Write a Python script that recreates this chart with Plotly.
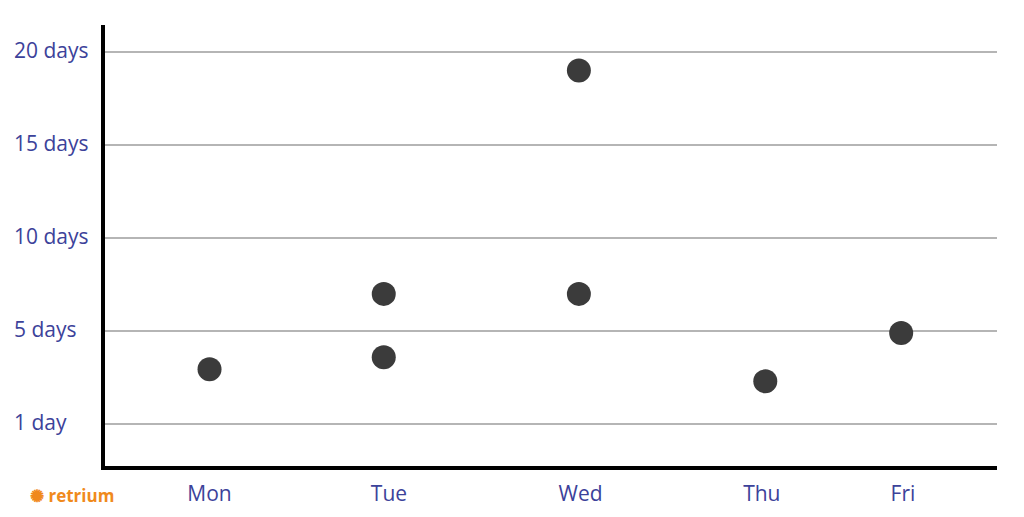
import plotly.graph_objects as go

day_names = ["Mon", "Tue", "Wed", "Thu", "Fri"]
day_pos = [1.0, 2.03, 3.13, 4.17, 4.98]

# y tick labels sit on evenly spaced rows
y_labels = ["1 day", "5 days", "10 days", "15 days", "20 days"]
y_rows = [0, 1, 2, 3, 4]

point_x = [1.0, 2.0, 2.0, 3.12, 3.12, 4.19, 4.97]
point_y = [0.59, 1.40, 0.72, 3.80, 1.40, 0.46, 0.98]

fig = go.Figure(go.Scatter(
    x=point_x, y=point_y, mode="markers",
    marker=dict(size=24, color="#3b3b3b"),
    hoverinfo="skip",
))

fig.update_xaxes(
    range=[0.4, 5.52], tickvals=day_pos, ticktext=day_names,
    showgrid=False, zeroline=False, showline=True, linewidth=4, linecolor="black",
    ticks="", ticklabelstandoff=6,
    tickfont=dict(family="Open Sans", size=21, color="#3c429a"),
)
fig.update_yaxes(
    range=[-0.45, 4.29], tickvals=y_rows, showticklabels=False,
    showgrid=True, gridcolor="#b5b5b5", gridwidth=1.5, zeroline=False,
    showline=True, linewidth=4, linecolor="black", ticks="",
)

# left-aligned y labels
for row, label in zip(y_rows, y_labels):
    fig.add_annotation(
        text=label, xref="paper", yref="y", x=-0.104, y=row + 0.02,
        xanchor="left", yanchor="middle", showarrow=False,
        font=dict(family="Open Sans", size=21, color="#3c429a"),
    )

fig.add_annotation(
    text="<b>✺ retrium</b>", xref="paper", yref="paper", x=-0.086, y=-0.068,
    xanchor="left", yanchor="middle", showarrow=False,
    font=dict(family="Open Sans", size=17, color="#f08a1c"),
)

fig.update_layout(
    width=1024, height=517, showlegend=False,
    margin=dict(l=97, r=35, t=17, b=59),
    plot_bgcolor="white", paper_bgcolor="white",
)

fig.write_html("out.html")
